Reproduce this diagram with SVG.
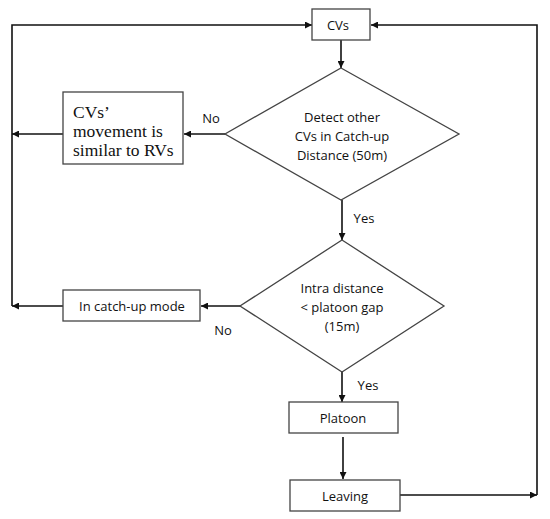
<svg xmlns="http://www.w3.org/2000/svg" width="550" height="519" viewBox="0 0 550 519">
<style>
.box{fill:#fff;stroke:#444;stroke-width:1.3}
.ln{fill:none;stroke:#111;stroke-width:1.6}
.t{font-family:"Open Sans","Liberation Sans",sans-serif;font-size:13px;fill:#111;text-anchor:middle;dominant-baseline:central}
.s{font-family:"Liberation Serif",serif;font-size:17.5px;fill:#111;dominant-baseline:central}
</style>
<defs>
<marker id="ah" viewBox="0 0 10 10" refX="10" refY="5" markerWidth="7" markerHeight="7" markerUnits="userSpaceOnUse" orient="auto">
<path d="M0,0 L10,5 L0,10 z" fill="#111"/>
</marker>
</defs>
<rect width="550" height="519" fill="#fff"/>
<g id="connectors">
<path class="ln" d="M341,40 V68" marker-end="url(#ah)"/>
<path class="ln" d="M225,134 H184" marker-end="url(#ah)"/>
<path class="ln" d="M63,134 H12" marker-end="url(#ah)"/>
<path class="ln" d="M342,200 V240" marker-end="url(#ah)"/>
<path class="ln" d="M240,306 H201" marker-end="url(#ah)"/>
<path class="ln" d="M63,306 H12" marker-end="url(#ah)"/>
<path class="ln" d="M12,306 V25 H312" marker-end="url(#ah)"/>
<path class="ln" d="M342,372 V402" marker-end="url(#ah)"/>
<path class="ln" d="M343,437 V479" marker-end="url(#ah)"/>
<path class="ln" d="M400,495 H537" marker-end="url(#ah)"/>
<path class="ln" d="M537,495 V25 H371" marker-end="url(#ah)"/>
<text class="t" x="211" y="118">No</text>
<text class="t" x="364" y="218">Yes</text>
<text class="t" x="223" y="330">No</text>
<text class="t" x="368" y="385">Yes</text>
</g>
<g id="cvs">
<rect class="box" x="312" y="9" width="58" height="31"/>
<text class="t" x="338" y="25">CVs</text>
</g>
<g id="detect">
<polygon class="box" points="341,68 459,134 341,200 225,134"/>
<text class="t" x="342" y="117">Detect other</text>
<text class="t" x="342" y="136">CVs in Catch-up</text>
<text class="t" x="342" y="155">Distance (50m)</text>
</g>
<g id="similar">
<rect class="box" x="63" y="92" width="120" height="72"/>
<text class="s" x="73" y="112">CVs’</text>
<text class="s" x="73" y="131">movement is</text>
<text class="s" x="73" y="150">similar to RVs</text>
</g>
<g id="intra">
<polygon class="box" points="342,240 444,306 342,372 240,306"/>
<text class="t" x="342" y="288">Intra distance</text>
<text class="t" x="342" y="307">&lt; platoon gap</text>
<text class="t" x="342" y="326">(15m)</text>
</g>
<g id="catchup">
<rect class="box" x="63" y="290" width="137" height="31"/>
<text class="t" x="132" y="306">In catch-up mode</text>
</g>
<g id="platoon">
<rect class="box" x="289" y="402" width="109" height="31"/>
<text class="t" x="343" y="418">Platoon</text>
</g>
<g id="leaving">
<rect class="box" x="290" y="480" width="110" height="31"/>
<text class="t" x="345" y="496">Leaving</text>
</g>
</svg>
